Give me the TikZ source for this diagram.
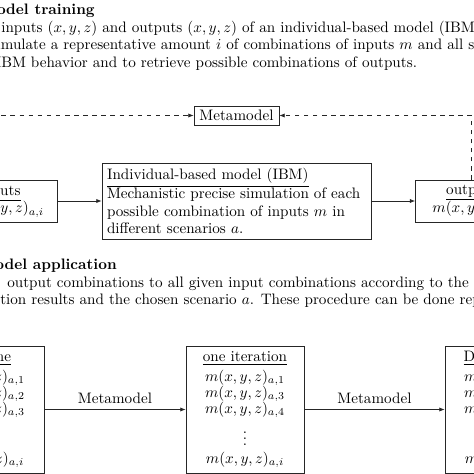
\documentclass[tikz,border=0pt]{standalone}
\usetikzlibrary{arrows.meta,calc}
\renewcommand\arraystretch{0.89}
\begin{document}
\begin{tikzpicture}[x=0.66pt,y=-0.66pt,
  txt/.style={inner sep=0pt, anchor=base west},
  head/.style={inner sep=0pt, anchor=base east, font=\bfseries},
  box/.style={draw=black!85, line width=0.5pt},
  small box/.style={box, inner sep=0pt, minimum width=#1, minimum height=27.7pt, font=\fontsize{10}{11.3}\selectfont},
  iter box/.style={box, inner sep=0pt, minimum width=77.9pt, minimum height=83.8pt},
  iter text/.style={inner sep=0pt, anchor=north},
  arr/.style={draw=black!85, line width=0.5pt, -{Latex[length=3.5pt,width=2.8pt]}},
  dsh/.style={arr, dashed},
]
\useasboundingbox (0,0) rectangle (474,474);
\clip (0,0) rectangle (474,474);

% ---- top text
\node[head] (h1) at (95,14.5) {Metamodel training};
\node[txt] (p1) at (1,32.3) {inputs $(x,y,z)$ and outputs $(x,y,z)$ of an individual-based model (IBM) to};
\node[txt] (p2) at (0.5,50) {\llap{We si}mulate a representative amount $i$ of combinations of inputs $m$ and all scenarios};
\node[txt] (p3) at (1,67.7) {\llap{I}BM behavior and to retrieve possible combinations of outputs.};

% ---- training diagram
\node[box, inner sep=0pt, minimum width=56.1pt, minimum height=12.5pt] (meta) at (236.5,115.5) {Metamodel};
\node[small box=60.8pt, anchor=east, align=left] (in) at (58,201) {\begin{tabular}{@{}l@{}}\underline{inputs}\\[1pt] $(x,y,z)_{a,i}$\end{tabular}};
\node[box, minimum width=177.5pt, minimum height=50.2pt, text width=170.9pt, inner sep=3.3pt, align=left, font=\fontsize{10}{11.3}\selectfont] (ibm) at (236.5,201)
  {\underline{Individual-based model (IBM)}\\ Mechanistic precise simulation of each\\ possible combination of inputs $m$ in\\ different scenarios $a$.};
\node[small box=73.9pt, align=center] (out) at (471.5,201) {\underline{outputs}\\ $m(x,y,z)_{a,i}$};
\coordinate (inTop) at ($(in.north west)!0.2!(in.north east)$);

\draw[arr] (in) -- (ibm);
\draw[arr] (ibm) -- (out);
\draw[dsh] (inTop) |- (meta.west);
\draw[dsh] (out.north) |- (meta.east);

% ---- bottom text
\node[head] (h2) at (117,269) {Metamodel application};
\node[txt] (q1) at (7,287) {output combinations to all given input combinations according to the metamodel};
\node[txt] (q2) at (0,304) {\llap{simula}tion results and the chosen scenario $a$. These procedure can be done repeatedly.};

% ---- application diagram
\node[iter box] (b1) at (-15,409.5) {};
\node[iter box] (b2) at (245,409.5) {};
\node[iter box] (b3) at (504,409.5) {};
\node[iter text] (c1) at ($(b1.north)+(0,4.5)$) {\begin{tabular}{@{}c@{}}\underline{baseline}\\[2pt] $m(x,y,z)_{a,1}$\\ $m(x,y,z)_{a,2}$\\ $m(x,y,z)_{a,3}$\\[2.7pt] $\vdots$\\[1.3pt] $m(x,y,z)_{a,i}$\end{tabular}};
\node[iter text] (c2) at ($(b2.north)+(0,4.5)$) {\begin{tabular}{@{}c@{}}\underline{one iteration}\\[2pt] $m(x,y,z)_{a,1}$\\ $m(x,y,z)_{a,3}$\\ $m(x,y,z)_{a,4}$\\[2.7pt] $\vdots$\\[1.3pt] $m(x,y,z)_{a,i}$\end{tabular}};
\node[iter text] (c3) at ($(b3.north)+(0,4.5)$) {\begin{tabular}{@{}c@{}}\underline{Distribution}\\[2pt] $m(x,y,z)_{a,1}$\\ $m(x,y,z)_{a,2}$\\ $m(x,y,z)_{a,3}$\\[2.7pt] $\vdots$\\[1.3pt] $m(x,y,z)_{a,i}$\end{tabular}};

\draw[arr] (b1) -- node[above] (l1) {Metamodel} (b2);
\draw[arr] (b2) -- node[above] (l2) {Metamodel} (b3);
\end{tikzpicture}
\end{document}
